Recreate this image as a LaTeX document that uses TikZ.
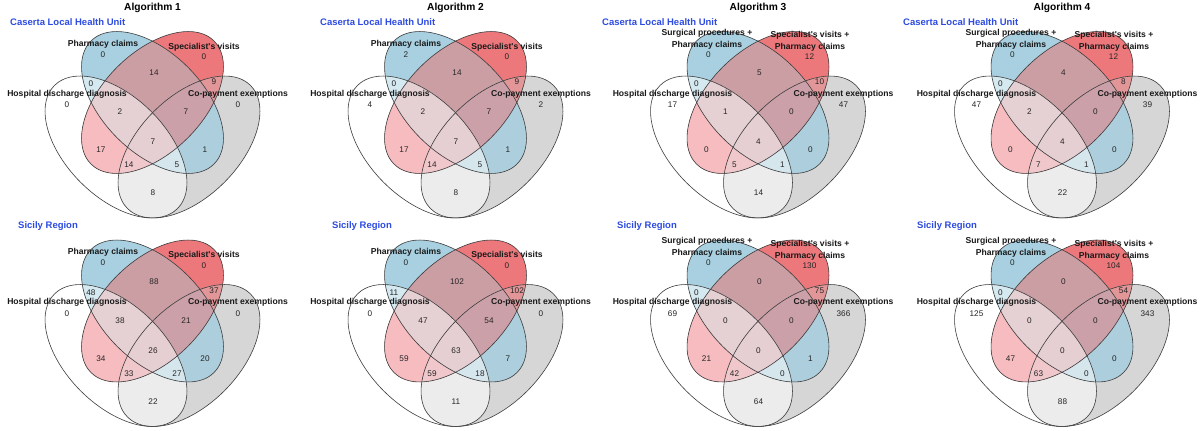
\documentclass[tikz,border=0pt]{standalone}
\usepackage{fontspec}
\setmainfont{Liberation Sans}
\definecolor{subblue}{RGB}{45,75,225}
\definecolor{cB}{RGB}{168,208,224}
\definecolor{cR}{RGB}{236,120,124}
\definecolor{cG}{RGB}{214,214,214}
\definecolor{cBR}{RGB}{203,158,164}
\definecolor{cRG}{RGB}{226,150,152}
\definecolor{cBG}{RGB}{172,206,221}
\definecolor{cBRG}{RGB}{203,160,168}
\definecolor{cWB}{RGB}{213,233,240}
\definecolor{cWR}{RGB}{246,188,191}
\definecolor{cWG}{RGB}{236,236,236}
\definecolor{cWBR}{RGB}{229,208,211}
\definecolor{cWRG}{RGB}{240,200,203}
\definecolor{cWBG}{RGB}{214,230,237}
\definecolor{cWBRG}{RGB}{229,207,211}
\definecolor{outl}{RGB}{60,60,60}
% the four ellipses in panel coordinates (pixels, origin at top centre of panel)
\newcommand{\ellW}{plot[smooth cycle,domain=0:355,samples=72,variable=\t]({-36.5+0.7071*(87*cos(\t)+50*sin(\t))},{-147+0.7071*(50*sin(\t)-87*cos(\t))})}
\newcommand{\ellG}{plot[smooth cycle,domain=0:355,samples=72,variable=\t]({36.5+0.7071*(87*cos(\t)-50*sin(\t))},{-147+0.7071*(87*cos(\t)+50*sin(\t))})}
\newcommand{\ellB}{plot[smooth cycle,domain=0:355,samples=72,variable=\t]({0.7071*(87*cos(\t)+50*sin(\t))},{-102.5+0.7071*(50*sin(\t)-87*cos(\t))})}
\newcommand{\ellR}{plot[smooth cycle,domain=0:355,samples=72,variable=\t]({0.7071*(87*cos(\t)-50*sin(\t))},{-102.5+0.7071*(87*cos(\t)+50*sin(\t))})}
\newcommand{\venn}{%
  \fill[white] \ellW; \fill[cB] \ellB; \fill[cR] \ellR; \fill[cG] \ellG;
  \begin{scope}\clip \ellW; \fill[cWB] \ellB; \fill[cWR] \ellR; \fill[cWG] \ellG; \end{scope}
  \begin{scope}\clip \ellB; \fill[cBR] \ellR; \fill[cBG] \ellG; \end{scope}
  \begin{scope}\clip \ellR; \fill[cRG] \ellG; \end{scope}
  \begin{scope}\clip \ellW; \clip \ellB; \fill[cWBR] \ellR; \fill[cWBG] \ellG; \end{scope}
  \begin{scope}\clip \ellW; \clip \ellR; \fill[cWRG] \ellG; \end{scope}
  \begin{scope}\clip \ellB; \clip \ellR; \fill[cBRG] \ellG; \end{scope}
  \begin{scope}\clip \ellW; \clip \ellB; \clip \ellR; \fill[cWBRG] \ellG; \end{scope}
  \draw[ol] \ellW; \draw[ol] \ellB; \draw[ol] \ellR; \draw[ol] \ellG;}
\newcommand{\labsA}[1]{%
 \node[lab] (#1-lb) at (-49.5,-44) {Pharmacy claims};
 \node[lab] (#1-lr) at (51.5,-47) {Specialist\textquotesingle s visits};
 \node[lab] (#1-lw) at (-85.5,-94) {Hospital discharge diagnosis};
 \node[lab] (#1-lg) at (85.5,-94) {Co-payment exemptions};}
\newcommand{\labsB}[1]{%
 \node[lab] (#1-lb) at (-51,-39) {Surgical procedures +\\Pharmacy claims};
 \node[lab] (#1-lr) at (52,-41.5) {Specialist\textquotesingle s visits +\\Pharmacy claims};
 \node[lab] (#1-lw) at (-85.5,-94) {Hospital discharge diagnosis};
 \node[lab] (#1-lg) at (85.5,-94) {Co-payment exemptions};}
\newcommand{\numsA}[9]{%
 \node[num] (#1-b) at (-49.5,-54.5) {#2};
 \node[num] (#1-r) at (51.5,-57) {#3};
 \node[num] (#1-br) at (1.5,-73) {#4};
 \node[num] (#1-wb) at (-61.5,-84) {#5};
 \node[num] (#1-rg) at (61.5,-82) {#6};
 \node[num] (#1-w) at (-85.5,-105) {#7};
 \node[num] (#1-g) at (85.5,-105) {#8};
 \node[num] (#1-wbr) at (-32.5,-112) {#9};}
\newcommand{\numsB}[8]{%
 \node[num] (#1-brg) at (33.5,-112) {#2};
 \node[num] (#1-all) at (0.5,-142) {#3};
 \node[num] (#1-wr) at (-51.5,-150) {#4};
 \node[num] (#1-bg) at (52.5,-150) {#5};
 \node[num] (#1-wrg) at (-23.5,-165) {#6};
 \node[num] (#1-wbg) at (24.5,-165) {#7};
 \node[num] (#1-wg) at (0.5,-193) {#8};}
\tikzset{
 ol/.style={draw=outl,line width=0.6pt},
 num/.style={font=\fontsize{8.2}{9}\selectfont,inner sep=0pt,text=black!85},
 lab/.style={font=\bfseries\fontsize{8.6}{12}\selectfont,inner sep=0pt,align=center,text=black!90},
 ttl/.style={font=\bfseries\fontsize{10.2}{12}\selectfont,inner sep=0pt},
 sub/.style={font=\bfseries\fontsize{9.5}{11}\selectfont,inner sep=0pt,anchor=west,text=subblue}
}
\begin{document}
\begin{tikzpicture}[x=1pt,y=1pt]
\useasboundingbox[fill=white] (0,0) rectangle (1200,431);
% titles
\node[ttl] (t1) at (152.5,423.5) {Algorithm 1};
\node[ttl] (t2) at (455.5,423.5) {Algorithm 2};
\node[ttl] (t3) at (758,423.5) {Algorithm 3};
\node[ttl] (t4) at (1062,423.5) {Algorithm 4};
% panels, row 1
\begin{scope}[shift={(152.5,431)}]
 \venn \labsA{p1}
 \numsA{p1}{0}{0}{14}{0}{9}{0}{0}{2}
 \numsB{p1}{7}{7}{17}{1}{14}{5}{8}
\end{scope}
\begin{scope}[shift={(455.5,431)}]
 \venn \labsA{p2}
 \numsA{p2}{2}{0}{14}{0}{9}{4}{2}{2}
 \numsB{p2}{7}{7}{17}{1}{14}{5}{8}
\end{scope}
\begin{scope}[shift={(758,431)}]
 \venn \labsB{p3}
 \numsA{p3}{0}{12}{5}{0}{10}{17}{47}{1}
 \numsB{p3}{0}{4}{0}{0}{5}{1}{14}
\end{scope}
\begin{scope}[shift={(1062,431)}]
 \venn \labsB{p4}
 \numsA{p4}{0}{12}{4}{0}{8}{47}{39}{2}
 \numsB{p4}{0}{4}{0}{0}{7}{1}{22}
\end{scope}
% panels, row 2
\begin{scope}[shift={(152.5,222.5)}]
 \venn \labsA{p5}
 \numsA{p5}{0}{0}{88}{48}{37}{0}{0}{38}
 \numsB{p5}{21}{26}{34}{20}{33}{27}{22}
\end{scope}
\begin{scope}[shift={(455.5,222.5)}]
 \venn \labsA{p6}
 \numsA{p6}{0}{0}{102}{11}{102}{0}{0}{47}
 \numsB{p6}{54}{63}{59}{7}{59}{18}{11}
\end{scope}
\begin{scope}[shift={(758,222.5)}]
 \venn \labsB{p7}
 \numsA{p7}{0}{130}{0}{0}{75}{69}{366}{0}
 \numsB{p7}{0}{0}{21}{1}{42}{0}{64}
\end{scope}
\begin{scope}[shift={(1062,222.5)}]
 \venn \labsB{p8}
 \numsA{p8}{0}{104}{0}{0}{54}{125}{343}{0}
 \numsB{p8}{0}{0}{47}{0}{63}{0}{88}
\end{scope}
% sub titles
\node[sub] (s1) at (10,409.3) {Caserta Local Health Unit};
\node[sub] (s2) at (320,409.3) {Caserta Local Health Unit};
\node[sub] (s3) at (602,409.3) {Caserta Local Health Unit};
\node[sub] (s4) at (903,409.3) {Caserta Local Health Unit};
\node[sub] (s5) at (18,205) {Sicily Region};
\node[sub] (s6) at (332,205) {Sicily Region};
\node[sub] (s7) at (617,205) {Sicily Region};
\node[sub] (s8) at (917,205) {Sicily Region};
\end{tikzpicture}
\end{document}
